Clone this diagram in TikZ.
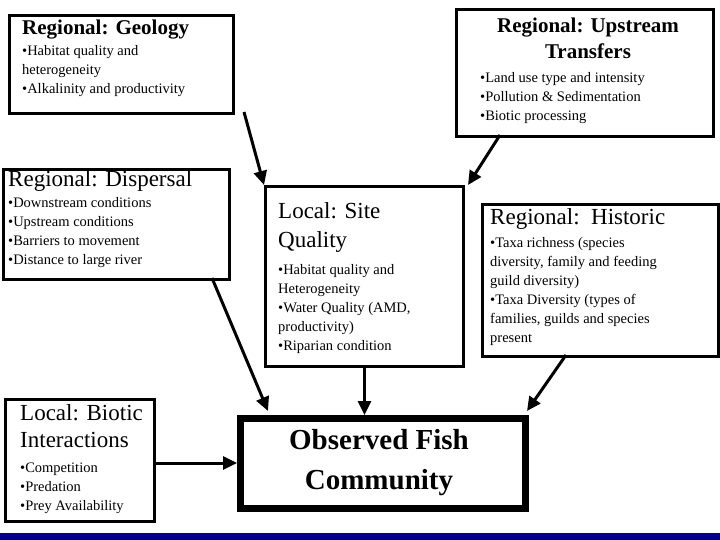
\documentclass[tikz,border=0pt]{standalone}
\usepackage{fontspec}
\setmainfont{Liberation Serif}
\usetikzlibrary{arrows.meta}
\newcommand\bigf{\fontsize{23}{27}\selectfont}
\newcommand\smf{\fontsize{14.5}{19}\selectfont}
\begin{document}
\begin{tikzpicture}[x=1pt,y=-1pt,
 bx/.style={draw,line width=3pt,anchor=north west,inner sep=0pt},
 txt/.style={anchor=north west,align=left,inner sep=0pt,font=\smf},
 arr/.style={line width=3pt,-{Triangle[length=14pt,width=13pt]}}]
\useasboundingbox (0,0) rectangle (720,540);
\fill[blue!55!black] (0,533) rectangle (720,540);
% boxes
\node[bx,minimum width=224,minimum height=98] (geo) at (8,14) {};
\node[bx,minimum width=257,minimum height=127] (up) at (455,8) {};
\node[bx,minimum width=226,minimum height=110] (dis) at (2,168) {};
\node[bx,minimum width=198,minimum height=180] (site) at (264,185) {};
\node[bx,minimum width=236,minimum height=152] (his) at (481,203) {};
\node[bx,minimum width=149,minimum height=122] (bio) at (4,398) {};
\node[draw,line width=7pt,anchor=north west,minimum width=285,minimum height=90] (obs) at (237,415) {};
% texts
\node[txt] (tgeo) at (22,20) {{\fontsize{21}{22}\selectfont\bfseries Regional: Geology}\\[2pt]•Habitat quality and\\heterogeneity\\•Alkalinity and productivity};
\node[txt,align=center,anchor=north,font=\fontsize{21}{26}\selectfont\bfseries] (tuph) at (588,18) {Regional: Upstream\\Transfers};
\node[txt] (tup) at (480,72) {•Land use type and intensity\\•Pollution \& Sedimentation\\•Biotic processing};
\node[txt] (tdis) at (8,170) {{\bigf Regional: Dispersal}\\[2pt]•Downstream conditions\\•Upstream conditions\\•Barriers to movement\\•Distance to large river};
\node[txt] (tsite) at (278,202) {\bigf Local: Site\\[10pt]\bigf Quality\\[8pt]\smf •Habitat quality and\\Heterogeneity\\•Water Quality (AMD,\\productivity)\\•Riparian condition};
\node[txt] (this) at (490,208) {{\bigf Regional:\ \ Historic}\\[4pt]•Taxa richness (species\\diversity, family and feeding\\guild diversity)\\•Taxa Diversity (types of\\families, guilds and species\\present};
\node[txt] (tbio) at (20,404) {\bigf Local: Biotic\\[8pt]\bigf Interactions\\[6pt]\smf •Competition\\•Predation\\•Prey Availability};
\node[align=center,font=\fontsize{29}{40}\selectfont\bfseries] (tobs) at (379,463) {Observed Fish\\Community};
% arrows
\coordinate (g1) at (244,112);
\draw[arr] (g1) -- (site.north west);
\coordinate (u1) at (500,135); \coordinate (s2) at (468,185);
\draw[arr] (u1) -- (s2);
\coordinate (d1) at (212,278); \coordinate (o1) at (268,411);
\draw[arr] (d1) -- (o1);
\draw[arr] (site.south) -- (site.south |- obs.north);
\coordinate (h1) at (566,355); \coordinate (o2) at (527,411);
\draw[arr] (h1) -- (o2);
\draw[arr] (bio.east |- tobs) -- (obs.west |- tobs);
\end{tikzpicture}
\end{document}
